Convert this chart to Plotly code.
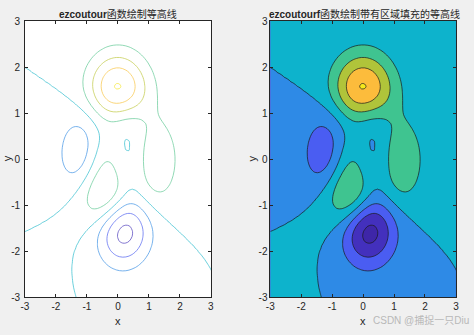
import numpy as np
import plotly.graph_objects as go

# ---- data ----
x_limits = [-3, 3]
y_limits = [-3, 3]
n_grid = 60
levels = [-6, -4, -2, 0, 2, 4, 6, 8]
tick_vals = [-3, -2, -1, 0, 1, 2, 3]
tick_text = ["-3", "-2", "-1", "0", "1", "2", "3"]
title_left = "函数绘制等高线"
title_right = "函数绘制带有区域填充的等高线"
watermark = "CSDN @捕捉一只Diu"

# MATLAB peaks surface (the plotted function)
xs = np.linspace(x_limits[0], x_limits[1], n_grid)
ys = np.linspace(y_limits[0], y_limits[1], n_grid)
X, Y = np.meshgrid(xs, ys)
Z = (3 * (1 - X) ** 2 * np.exp(-X ** 2 - (Y + 1) ** 2)
     - 10 * (X / 5 - X ** 3 - Y ** 5) * np.exp(-X ** 2 - Y ** 2)
     - 1 / 3 * np.exp(-(X + 1) ** 2 - Y ** 2))

# ---- styles ----
band_colors = ["#3e26a8", "#4330bd", "#4a5df2", "#2e8ae6", "#0db3cc",
               "#3fc490", "#b0c43a", "#fcbc3c", "#f5e81c"]
line_colors = ["#5a4ac0", "#5c6cf0", "#4a98e6", "#3cc0d0",
               "#6ccc9c", "#c4cc50", "#f8c850", "#f5e83c"]
fill_scale = [[k / 8, c] for k, c in enumerate(band_colors)]
line_scale = [[k / 7, c] for k, c in enumerate(line_colors)]

W, H = 474, 335
def fx(px):
    return px / W
def fy(py):
    return 1 - py / H

fig = go.Figure()
fig.add_trace(go.Contour(
    x=xs, y=ys, z=Z, xaxis="x", yaxis="y",
    contours=dict(start=levels[0], end=levels[-1], size=2, coloring="lines"),
    colorscale=line_scale, showscale=False, line=dict(width=0.75),
    hoverinfo="skip"))
fig.add_trace(go.Contour(
    x=xs, y=ys, z=Z, xaxis="x2", yaxis="y2",
    contours=dict(start=levels[0], end=levels[-1], size=2, coloring="fill"),
    colorscale=fill_scale, showscale=False,
    line=dict(width=0.7, color="#1a1a1a"),
    hoverinfo="skip"))

axis_common = dict(range=[-3, 3], tickmode="array", tickvals=tick_vals,
                   ticktext=tick_text, ticks="inside", ticklen=3,
                   tickcolor="#262626", showline=True, linecolor="#262626",
                   linewidth=0.6, mirror="ticks", showgrid=False,
                   zeroline=False, tickfont=dict(family="Liberation Sans, Arial",
                                                  size=10, color="#262626"),
                   fixedrange=True)

xdom_l = [fx(21.3), fx(210.0)]
xdom_r = [fx(270.3), fx(458.7)]
ydom = [fy(302.0), fy(15.6)]

fig.update_layout(
    width=W, height=H,
    margin=dict(l=0, r=0, t=0, b=0),
    paper_bgcolor="#f0f0f0", plot_bgcolor="#ffffff",
    showlegend=False,
    xaxis=dict(domain=xdom_l, anchor="y", **axis_common),
    yaxis=dict(domain=ydom, anchor="x", ticklabelstandoff=2, **axis_common),
    xaxis2=dict(domain=xdom_r, anchor="y2", **axis_common),
    yaxis2=dict(domain=ydom, anchor="x2", **axis_common),
)

font_lat = "Liberation Sans, Arial, Noto Sans CJK SC"
ann = []
def add(text, x, y, size=11, color="#262626", **kw):
    d = dict(text=text, x=fx(x), y=fy(y), xref="paper", yref="paper",
             xanchor="center", yanchor="middle", showarrow=False,
             font=dict(family=font_lat, size=size, color=color))
    d.update(kw)
    ann.append(d)

add("<b>ezcoutour</b>" + title_left, 116, 8, size=10)
add("<b>ezcoutourf</b>" + title_right, 365.5, 8, size=10)
for xc in (115.6, 364.5):
    add("x", xc, 327)
for xc in (3, 252):
    add("y", xc, 158, textangle=-90)
add(watermark, 474, 326, size=10, color="#b8b8b8", xanchor="right")
fig.update_layout(annotations=ann)

fig.write_html("out.html")
